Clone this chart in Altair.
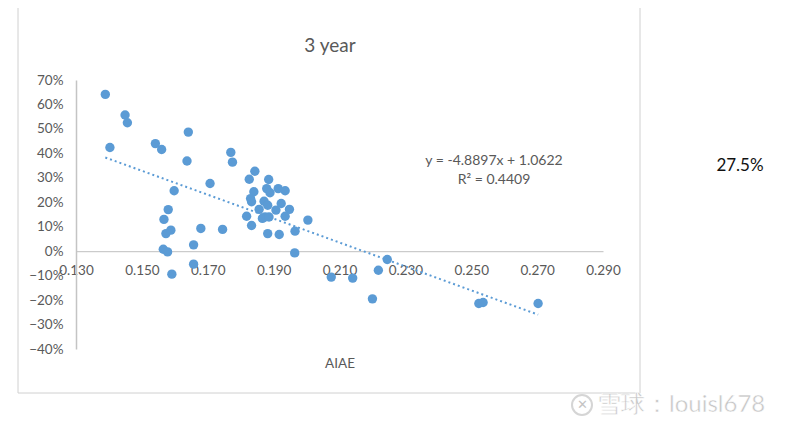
import altair as alt
import pandas as pd

# AIAE (x) vs 3-year return (y)
aiae = [0.1389, 0.1403, 0.1449, 0.1456, 0.1541, 0.1560, 0.1641, 0.1637, 0.1598, 0.1580,
        0.1567, 0.1573, 0.1588, 0.1565, 0.1578, 0.1591, 0.1657, 0.1657, 0.1679, 0.1707,
        0.1745, 0.1770, 0.1775, 0.1826, 0.1843, 0.1840, 0.1830, 0.1833, 0.1818, 0.1833,
        0.1856, 0.1871, 0.1879, 0.1885, 0.1889, 0.1882, 0.1874, 0.1866, 0.1886, 0.1882,
        0.1907, 0.1914, 0.1923, 0.1935, 0.1948, 0.1935, 0.1917, 0.1965, 0.1964, 0.2004,
        0.2075, 0.2140, 0.2200, 0.2218, 0.2245, 0.2523, 0.2536, 0.2703]
ret3y = [0.641, 0.424, 0.557, 0.525, 0.440, 0.416, 0.487, 0.369, 0.247, 0.170,
         0.130, 0.072, 0.086, 0.008, -0.003, -0.094, 0.026, -0.053, 0.093, 0.277,
         0.089, 0.404, 0.364, 0.294, 0.327, 0.243, 0.215, 0.202, 0.143, 0.105,
         0.171, 0.204, 0.256, 0.293, 0.239, 0.188, 0.140, 0.134, 0.140, 0.072,
         0.168, 0.256, 0.195, 0.247, 0.171, 0.143, 0.068, 0.082, -0.007, 0.127,
         -0.106, -0.110, -0.195, -0.078, -0.034, -0.214, -0.210, -0.214]

slope, intercept = -4.8897, 1.0622
trend_x = [min(aiae), max(aiae)]
x_ticks = [0.13, 0.15, 0.17, 0.19, 0.21, 0.23, 0.25, 0.27, 0.29]
y_ticks = [-0.4, -0.3, -0.2, -0.1, 0.0, 0.1, 0.2, 0.3, 0.4, 0.5, 0.6, 0.7]

FONT = "Lato"
GRAY = "#595959"
BLUE = "#5b9bd5"

df = pd.DataFrame({"x": aiae, "y": ret3y})
tdf = pd.DataFrame({"x": trend_x, "y": [slope * v + intercept for v in trend_x]})

xs = alt.Scale(domain=[0.13, 0.29], nice=False, zero=False)
ys = alt.Scale(domain=[-0.4, 0.7], nice=False, zero=False)

x_axis = alt.Axis(
    values=x_ticks, format=".3f", title=None, offset=-97.8, grid=False,
    ticks=False, tickSize=0, labelPadding=12, labelOverlap=False, labelFlush=False,
    domainColor="#bfbfbf", domainWidth=1,
    labelColor=GRAY, labelFont=FONT, labelFontSize=13.5)
y_axis = alt.Axis(
    values=y_ticks, format=".0%", title=None, grid=False, ticks=False, tickSize=0,
    labelPadding=13, labelOverlap=False, labelFlush=False,
    domainColor="#c4c4c4", domainWidth=1.5,
    labelColor=GRAY, labelFont=FONT, labelFontSize=13.5)

frame = alt.Chart(pd.DataFrame({"a": [0]})).mark_rect(
    fill="white", fillOpacity=0, stroke="#d0d0d0", strokeWidth=1
).encode(x=alt.value(-58), x2=alt.value(564), y=alt.value(-95), y2=alt.value(313))

points = alt.Chart(df).mark_circle(size=88, color=BLUE, opacity=1).encode(
    x=alt.X("x:Q", scale=xs, axis=x_axis),
    y=alt.Y("y:Q", scale=ys, axis=y_axis),
)

trend = alt.Chart(tdf).mark_line(color=BLUE, strokeDash=[2, 3], strokeWidth=2).encode(
    x=alt.X("x:Q", scale=xs, axis=x_axis), y=alt.Y("y:Q", scale=ys, axis=y_axis)
)

def txt(s, x, y, size, color=GRAY, align="center", **kw):
    return alt.Chart(pd.DataFrame({"t": [s]})).mark_text(
        font=FONT, fontSize=size, color=color, align=align, baseline="middle", **kw
    ).encode(x=alt.value(x), y=alt.value(y), text="t:N")

title = txt("3 year", 254, -34, 19)
xtitle = txt("AIAE", 264, 284, 13.5)
eq1 = txt("y = -4.8897x + 1.0622", 418, 81, 14)
eq2 = txt("R² = 0.4409", 418, 100, 14)
side = txt("27.5%", 664, 86, 17, color="#111111")

logo = alt.Chart(pd.DataFrame({"a": [0]})).mark_point(
    shape="circle", size=400, filled=False, stroke="#c4c4c4", strokeWidth=2
).encode(x=alt.value(506), y=alt.value(325))
logo_in = txt("✕", 506, 325, 13, color="#c4c4c4")
wm = txt("雪球：louisl678", 521, 325, 24, color="#c6c6c6", align="left",
         stroke="#ffffff", strokeWidth=0.5)

chart = alt.layer(frame, trend, points, title, xtitle, eq1, eq2, side, logo, logo_in, wm).properties(
    width=527, height=269,
    autosize=alt.AutoSizeParams(type="none"),
    padding={"left": 68, "top": 72, "right": 174, "bottom": 72},
    background="white",
).configure_view(stroke=None).configure_axis(labelOverlap=False)

chart.save("out.html", embed_options={"renderer": "svg", "actions": False})
